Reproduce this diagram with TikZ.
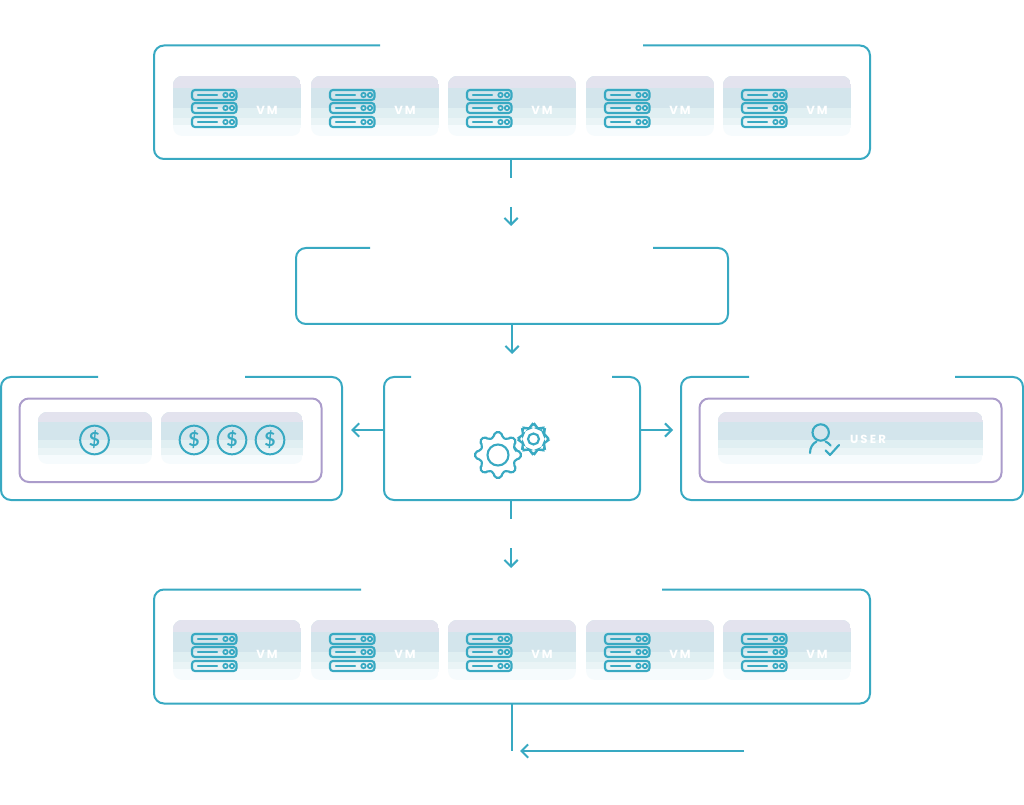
\documentclass[tikz,border=0pt]{standalone}
\usepackage{fontspec}
\setsansfont{Poppins}
\setmainfont{Lato}
\usetikzlibrary{arrows.meta,fit,calc}
\definecolor{teal1}{HTML}{38A9C2}
\definecolor{purp1}{HTML}{AB9CCB}
\definecolor{bandA}{HTML}{E3E3EE}
\definecolor{bandB}{HTML}{D3E5EC}
\definecolor{bandC}{HTML}{E0EFF2}
\definecolor{bandD}{HTML}{EAF4F6}
\definecolor{bandE}{HTML}{F6FBFD}
\tikzset{
  x=0.75pt,y=-0.75pt,
  frame/.style={draw=teal1,line width=1.5pt,rounded corners=7.5pt},
  inner frame/.style={draw=purp1,line width=1.5pt,rounded corners=7pt},
  link/.style={draw=teal1,line width=1.5pt},
  arrowlink/.style={link,-{Straight Barb[length=5pt,width=10pt,line width=1.5pt]}},
  icon/.style={draw=teal1,line width=1.6pt},
  boxarea/.style={inner sep=0pt,outer sep=0pt},
  tag/.style={text=white,font=\sffamily\bfseries\fontsize{8.8}{10}\selectfont,inner sep=0pt},
  dollar/.style={text=teal1,font=\rmfamily\bfseries\fontsize{14.5}{16}\selectfont,inner sep=0pt},
}
% name, x1,y1,x2,y2, gap left, gap right
\newcommand{\gapbox}[7]{%
  \node[boxarea,fit={(#2,#3)(#4,#5)}] (#1) {};
  \draw[frame] (#6,#3) -- (#2,#3) -- (#2,#5) -- (#4,#5) -- (#4,#3) -- (#7,#3);
}
% x,y,w,h
\newcommand{\cardbg}[4]{%
  \begin{scope}
    \clip[rounded corners=7pt] (#1,#2) rectangle ++(#3,#4);
    \fill[bandE] (#1,#2) rectangle ++(#3,#4);
    \fill[bandD] (#1,#2) rectangle ++(#3,{0.82*#4});
    \fill[bandC] (#1,#2) rectangle ++(#3,{0.70*#4});
    \fill[bandB] (#1,#2) rectangle ++(#3,{0.53*#4});
    \fill[bandA] (#1,#2) rectangle ++(#3,{0.20*#4});
  \end{scope}
}
% VM card at x,y
\newcommand{\vmcard}[2]{%
  \cardbg{#1}{#2}{128}{60}
  \foreach \r in {14,27,41}{
    \begin{scope}[shift={(#1,#2)}]
      \draw[icon,rounded corners=2.2pt] (19,\r) rectangle ++(44.5,10);
      \draw[icon,line cap=round] (25,\r+5) -- (44,\r+5);
      \draw[teal1,line width=1.3pt] (52.5,\r+5) circle[radius=2.2];
      \draw[teal1,line width=1.3pt] (59,\r+5) circle[radius=2.2];
    \end{scope}
  }
  \node[tag] at ($(#1,#2)+(94,34)$) {\addfontfeature{LetterSpace=18}VM};
}
% cx,cy,router,rroot,rhole,teeth
\newcommand{\gearicon}[6]{%
  \begin{scope}[shift={(#1,#2)}]
    \pgfmathsetmacro{\st}{360/#6}
    \draw[icon,rounded corners=1.5pt] ({-0.30*\st}:#4)
      \foreach \i in {1,...,#6}{
        -- ({(\i-1)*\st-0.19*\st}:#3) -- ({(\i-1)*\st+0.19*\st}:#3)
        -- ({(\i-1)*\st+0.30*\st}:#4) -- ({\i*\st-0.30*\st}:#4)
      } -- cycle;
    \draw[icon] (0,0) circle[radius=#5];
  \end{scope}
}
\newcommand{\coin}[3]{%
  \node[draw=teal1,line width=1.5pt,circle,minimum size=21.5pt,inner sep=0pt,dollar] (#1) at (#2,#3) {\$};
}
\begin{document}
\begin{tikzpicture}
\useasboundingbox (0,0) rectangle (1024,805);
\fill[white] (0,0) rectangle (1024,805);

% frames
\gapbox{top}{154}{45.5}{870}{159}{380}{643}
\gapbox{mid}{296}{248}{728}{324}{370}{653}
\gapbox{left}{1}{377}{342}{500}{98}{245}
\gapbox{core}{384}{377}{640}{500}{411}{612}
\gapbox{right}{681}{377}{1023}{500}{749}{955}
\gapbox{low}{154}{589.5}{870}{703.5}{361}{662}

% inner frames
\node[boxarea,fit={(19.5,398.5)(321.5,482)},inner frame,draw] (payin) {};
\node[boxarea,fit={(699.5,398.5)(1001.5,482)},inner frame,draw] (userin) {};

% VM cards
\foreach \cx in {173,311,448,586,723}{
  \vmcard{\cx}{76}
  \vmcard{\cx}{620}
}

% pay cards
\cardbg{38}{412}{114}{52}
\cardbg{161}{412}{142}{52}
\coin{d1}{94.5}{440}
\coin{d2}{194}{440}
\coin{d3}{232}{440}
\coin{d4}{270}{440}

% user card
\cardbg{718}{412}{265}{52}
\draw[icon] (820.7,432.5) circle[radius=8.2];
\draw[icon,line cap=round] (810,453) .. controls (810,447) and (813,443.5) .. (816.5,441.5);
\draw[icon,line cap=round] (825.5,441.5) .. controls (827.5,442.5) and (829,443.5) .. (830.5,445.5);
\draw[icon,line cap=round,line join=round] (825.5,450.5) -- (830,455) -- (839,445);
\node[tag] (usertag) at (868,439) {\addfontfeature{LetterSpace=18}USER};

% gears
\gearicon{498}{455}{23}{18}{10.5}{8}
\gearicon{533.5}{439}{15}{11.5}{5.5}{8}

% connectors
\coordinate (a1) at (511,178);
\coordinate (a2) at (511,207);
\coordinate (a3) at (511,226);
\coordinate (b1) at (511,519);
\coordinate (b2) at (511,548);
\coordinate (b3) at (511,568);
\coordinate (c1) at (512,751);
\coordinate (c2) at (744,751);
\coordinate (c3) at (520,751);
\coordinate (corein) at (512,354);
\coordinate (lefttip) at (351,430);
\coordinate (righttip) at (673,430);
\draw[link] (a1 |- top.south) -- (a1);
\draw[arrowlink] (a2) -- (a3);
\draw[arrowlink] (corein |- mid.south) -- (corein);
\draw[arrowlink] (lefttip -| core.west) -- (lefttip);
\draw[arrowlink] (righttip -| core.east) -- (righttip);
\draw[link] (b1 |- core.south) -- (b1);
\draw[arrowlink] (b2) -- (b3);
\draw[link] (c1 |- low.south) -- (c1);
\draw[arrowlink] (c2) -- (c3);
\end{tikzpicture}
\end{document}
